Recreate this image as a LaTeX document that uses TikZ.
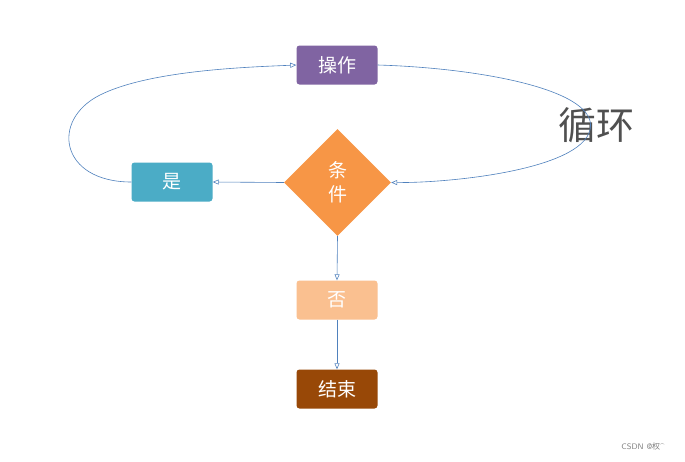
\documentclass[tikz,border=0pt]{standalone}
\usepackage{fontspec}
\newfontfamily\cjk{Noto Sans CJK SC}
\usetikzlibrary{shapes.geometric,arrows.meta}
\definecolor{lnk}{HTML}{4F81BD}
\begin{document}
\begin{tikzpicture}[x=1pt,y=-1pt,
  box/.style={rounded corners=3pt,minimum width=81pt,minimum height=39pt,text=white,font=\cjk\fontsize{19}{22}\selectfont,inner sep=0pt},
  conn/.style={draw=lnk,line width=0.6pt,-{Stealth[length=6pt,width=5pt,inset=0pt,open]}}]
\useasboundingbox[fill=white] (0,0) rectangle (685,461);
\node[box,fill={rgb,255:red,128;green,100;blue,162}] (op) at (337,65) {操作};
\node[diamond,fill={rgb,255:red,247;green,150;blue,70},minimum width=107pt,minimum height=107pt,inner sep=0pt,text=white,align=center,font=\cjk\fontsize{19}{24}\selectfont] (cond) at (337.5,182.5) {条\\件};
\node[box,fill={rgb,255:red,75;green,172;blue,198}] (yes) at (172,182) {是};
\node[box,fill={rgb,255:red,250;green,192;blue,144}] (no) at (337,300) {否};
\node[box,fill={rgb,255:red,152;green,72;blue,7}] (end) at (337,389) {结束};
\node[font=\cjk\fontsize{38}{40}\selectfont,text={rgb,255:red,80;green,80;blue,80}] (loop) at (596,125) {循环};
\node[font=\fontsize{8}{9}\selectfont\sffamily,text=gray] (wm) at (643,446) {CSDN @\cjk 权\sffamily\^{}};
\draw[conn] (cond.west) -- (yes.east);
\draw[conn] (cond.south) -- (no.north);
\draw[conn] (no.south) -- (end.north);
\draw[conn] (yes.west) .. controls (60,182) and (50,120) .. (100,95) .. controls (150,70) and (250,67) .. (op.west);
\draw[conn] (op.east) .. controls (480,68) and (600,90) .. (590,130) .. controls (580,170) and (450,183) .. (cond.east);
\end{tikzpicture}
\end{document}
